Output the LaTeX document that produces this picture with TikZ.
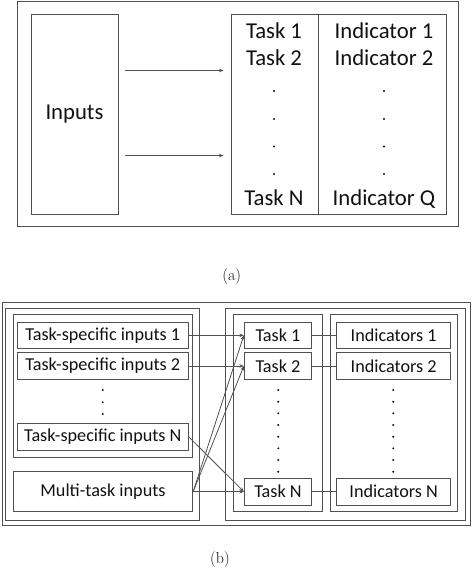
\documentclass[tikz,border=0pt]{standalone}
\usepackage{fontspec}
\setmainfont{Carlito}
\newfontfamily\lmfont{Latin Modern Roman}
\usetikzlibrary{arrows.meta}
\definecolor{ln}{HTML}{505050}
\definecolor{tx}{HTML}{111111}
\tikzset{
  box/.style={draw=ln, line width=0.9pt, inner sep=0pt, text=tx},
  bigtxt/.style={text=tx, inner sep=0pt, font=\fontsize{22.7}{24}\selectfont},
  smtxt/.style={font=\fontsize{18.2}{20}\selectfont},
  arr/.style={draw=ln, line width=0.8pt, -{Stealth[length=4.5pt,width=3.5pt]}},
  lnk/.style={draw=ln, line width=0.8pt},
  dotc/.style={fill=tx, draw=none, circle, minimum size=2.2pt, inner sep=0pt},
  captxt/.style={text=tx, inner sep=0pt, font=\lmfont\fontsize{16}{18}\selectfont}
}
\begin{document}
\begin{tikzpicture}[x=1pt,y=-1pt]
\useasboundingbox (0,0) rectangle (474,571);
% ---------- (a) ----------
\node[box, minimum width=441pt, minimum height=225pt] (frameA) at (237.5,113.5) {};
\node[box, minimum width=87pt, minimum height=200pt, bigtxt] (inputs) at (74.5,114) {Inputs};
\node[box, minimum width=87pt, minimum height=200pt] (tasksA) at (274.5,114) {};
\node[box, minimum width=128pt, minimum height=200pt] (indA) at (382,114) {};
\node[bigtxt, anchor=base] (ta1) at (274,38) {Task 1};
\node[bigtxt, anchor=base] (ta2) at (274,65.5) {Task 2};
\node[bigtxt, anchor=base] (taN) at (274,205) {Task N};
\node[bigtxt, anchor=base] (ia1) at (384,38) {Indicator 1};
\node[bigtxt, anchor=base] (ia2) at (384,65.5) {Indicator 2};
\node[bigtxt, anchor=base] (iaQ) at (384,205) {Indicator Q};
\foreach \yy [count=\i] in {91,119,146.5,174}{
  \node[dotc] (dta\i) at (274,\yy) {};
  \node[dotc] (dia\i) at (384,\yy) {};
}
\coordinate (ra1) at (0,70.5);
\coordinate (ra2) at (0,155.5);
\draw[arr, shorten <=7pt, shorten >=7pt] (inputs.east |- ra1) -- (tasksA.west |- ra1);
\draw[arr, shorten <=7pt, shorten >=7pt] (inputs.east |- ra2) -- (tasksA.west |- ra2);
\node[captxt] (capa) at (231.7,276.5) {(a)};
% ---------- (b) ----------
\node[box, minimum width=468pt, minimum height=222.5pt] (frameB) at (236,413.75) {};
\node[box, minimum width=193.6pt, minimum height=212pt] (leftF) at (102.5,414) {};
\node[box, minimum width=239.3pt, minimum height=212pt] (rightF) at (345.35,414) {};
\node[box, minimum width=179.4pt, minimum height=143.4pt] (leftP) at (103,386) {};
\node[box, smtxt, minimum width=171pt, minimum height=26pt] (tsi1) at (102.8,335.3) {Task-specific inputs 1};
\node[box, smtxt, minimum width=171pt, minimum height=26.6pt] (tsi2) at (102.8,366) {Task-specific inputs 2};
\node[box, smtxt, minimum width=171pt, minimum height=26.3pt] (tsiN) at (102.8,436.85) {Task-specific inputs N};
\node[box, smtxt, minimum width=179.4pt, minimum height=40pt] (multi) at (103,491.7) {Multi-task inputs};
\foreach \yy [count=\i] in {390,402.3,414}{
  \node[dotc] (dl\i) at (102.7,\yy) {};
}
\node[box, minimum width=89.4pt, minimum height=197.4pt] (taskP) at (278,413) {};
\node[box, minimum width=127.7pt, minimum height=197.4pt] (indP) at (393.85,413) {};
\node[box, smtxt, minimum width=67.4pt, minimum height=26pt] (task1) at (278,335.3) {Task 1};
\node[box, smtxt, minimum width=67.4pt, minimum height=26.6pt] (task2) at (278,366) {Task 2};
\node[box, smtxt, minimum width=67.4pt, minimum height=26.7pt] (taskN) at (278,491.7) {Task N};
\node[box, smtxt, minimum width=114pt, minimum height=26pt] (ind1) at (393.7,335.3) {Indicators 1};
\node[box, smtxt, minimum width=114pt, minimum height=26.6pt] (ind2) at (393.7,366) {Indicators 2};
\node[box, smtxt, minimum width=114pt, minimum height=26.7pt] (indN) at (393.7,491.7) {Indicators N};
\foreach \yy [count=\i] in {390,401.7,413.3,425,436.7,448.3,460,471.7}{
  \node[dotc] (dt\i) at (278.3,\yy) {};
  \node[dotc] (di\i) at (393.3,\yy) {};
}
\draw[arr] (tsi1.east) -- (task1.west);
\draw[arr] (tsi2.east) -- (task2.west);
\draw[arr] (tsiN.east) -- (taskN.west);
\draw[arr] (multi.east) -- (taskN.west);
\draw[arr] (multi.east) -- (task1.west);
\draw[arr] (multi.east) -- (task2.west);
\draw[lnk] (task1.east) -- (ind1.west);
\draw[lnk] (task2.east) -- (ind2.west);
\draw[lnk] (taskN.east) -- (indN.west);
\node[captxt] (capb) at (220,559.5) {(b)};
\end{tikzpicture}
\end{document}
